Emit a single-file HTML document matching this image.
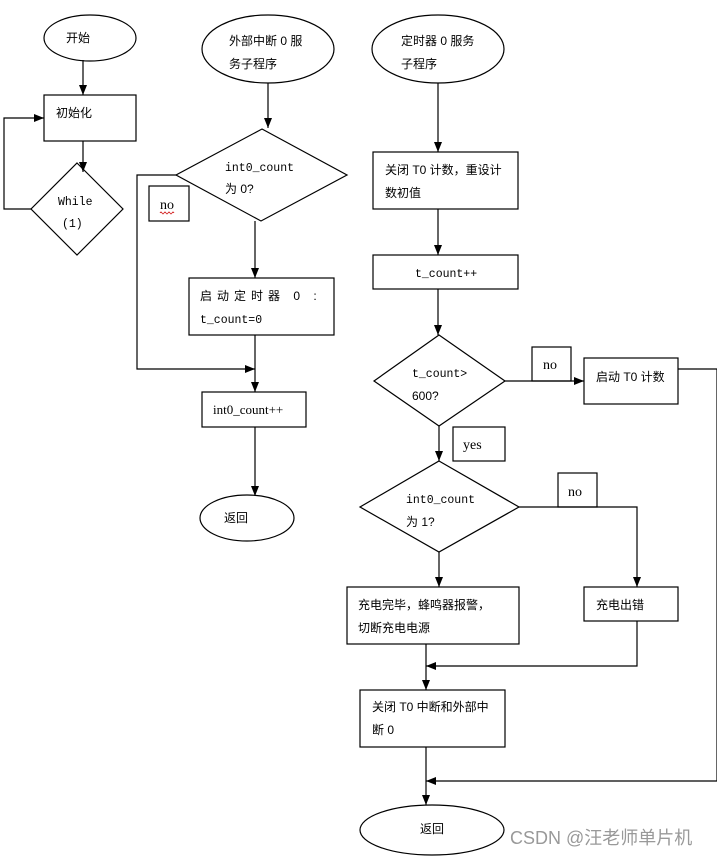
<!DOCTYPE html>
<html><head><meta charset="utf-8"><style>
html,body{margin:0;padding:0;background:#fff;}
svg{display:block;}
text{font-family:"Liberation Sans","Noto Sans CJK SC",sans-serif;font-size:12px;fill:#000;}
.m{font-family:"Liberation Mono","Noto Sans CJK SC",monospace;font-size:11.5px;}
.s{font-family:"Liberation Serif",serif;font-size:14px;}
</style></head><body>
<svg width="717" height="856" viewBox="0 0 717 856" xmlns="http://www.w3.org/2000/svg">
<defs><marker id="a" markerWidth="10" markerHeight="8" refX="10" refY="4" orient="auto" markerUnits="userSpaceOnUse"><path d="M0,0 L10,4 L0,8z" fill="#000"/></marker></defs>
<g fill="none" stroke="#000" stroke-width="1.2">
<ellipse cx="90" cy="38" rx="46" ry="23"/>
<rect x="44" y="95" width="92" height="46"/>
<path d="M77,163 L123,209 L77,255 L31,209z"/>
<ellipse cx="268" cy="49" rx="66" ry="34"/>
<path d="M262,129 L347,175 L261,221 L176,175z"/>
<rect x="149" y="186" width="40" height="35"/>
<rect x="189" y="278" width="145" height="57"/>
<rect x="202" y="392" width="104" height="35"/>
<ellipse cx="247" cy="518" rx="47" ry="23"/>
<ellipse cx="438" cy="49" rx="66" ry="34"/>
<rect x="373" y="152" width="145" height="57"/>
<rect x="373" y="255" width="145" height="34"/>
<path d="M439,335 L505,381 L439,426 L374,381z"/>
<rect x="532" y="347" width="39" height="34"/>
<rect x="584" y="358" width="94" height="46"/>
<rect x="453" y="427" width="52" height="34"/>
<path d="M439,461 L519,507 L439,552 L360,507z"/>
<rect x="558" y="473" width="39" height="34"/>
<rect x="347" y="587" width="172" height="57"/>
<rect x="584" y="587" width="94" height="34"/>
<rect x="360" y="690" width="145" height="57"/>
<ellipse cx="432" cy="830" rx="72" ry="25"/>
</g>
<g fill="none" stroke="#000" stroke-width="1.2" marker-end="url(#a)">
<path d="M83,60 L83,95"/>
<path d="M83,141 L83,172"/>
<path d="M31,209 L4,209 L4,118 L44,118"/>
<path d="M268,83 L268,128"/>
<path d="M176,175 L137,175 L137,369 L255,369"/>
<path d="M255,221 L255,278"/>
<path d="M255,335 L255,392"/>
<path d="M255,427 L255,496"/>
<path d="M438,83 L438,152"/>
<path d="M438,209 L438,255"/>
<path d="M438,289 L438,335"/>
<path d="M505,381 L584,381"/>
<path d="M678,369 L717,369 L717,781 L426,781"/>
<path d="M439,426 L439,461"/>
<path d="M519,507 L637,507 L637,587"/>
<path d="M439,552 L439,587"/>
<path d="M426,644 L426,690"/>
<path d="M637,621 L637,666 L426,666"/>
<path d="M426,747 L426,805"/>
</g>
<text x="66" y="42">开始</text>
<text x="56" y="117">初始化</text>
<text class="m" x="58" y="205">While</text>
<text class="m" x="62" y="227">(1)</text>
<text x="229" y="45">外部中断 0 服</text>
<text x="229" y="68">务子程序</text>
<text class="m" x="225" y="171">int0_count</text>
<text x="225" y="193">为 0?</text>
<text class="s" x="160" y="209">no</text>
<path d="M160,213 q1,-2 2,0 q1,2 2,0 q1,-2 2,0 q1,2 2,0 q1,-2 2,0 q1,2 2,0 q1,-2 2,0" stroke="#c00" fill="none" stroke-width="0.8"/>
<text x="200" y="300" style="letter-spacing:5px">启动定时器 0 :</text>
<text class="m" x="200" y="323">t_count=0</text>
<text class="s" x="213" y="414" style="font-size:13px">int0_count++</text>
<text x="224" y="522">返回</text>
<text x="401" y="45">定时器 0 服务</text>
<text x="401" y="68">子程序</text>
<text x="385" y="174">关闭 T0 计数，重设计</text>
<text x="385" y="197">数初值</text>
<text class="m" x="415" y="277">t_count++</text>
<text class="m" x="412" y="377">t_count&gt;</text>
<text x="412" y="400">600?</text>
<text class="s" x="543" y="369">no</text>
<text x="596" y="381">启动 T0 计数</text>
<text class="s" x="463" y="449">yes</text>
<text class="m" x="406" y="503">int0_count</text>
<text x="406" y="526">为 1?</text>
<text class="s" x="568" y="496">no</text>
<text x="358" y="609">充电完毕，蜂鸣器报警，</text>
<text x="358" y="632">切断充电电源</text>
<text x="596" y="609">充电出错</text>
<text x="372" y="711">关闭 T0 中断和外部中</text>
<text x="372" y="734">断 0</text>
<text x="420" y="833">返回</text>
<text x="510" y="844" style="font-size:18px;fill:#999">CSDN @汪老师单片机</text>
</svg>
</body></html>
